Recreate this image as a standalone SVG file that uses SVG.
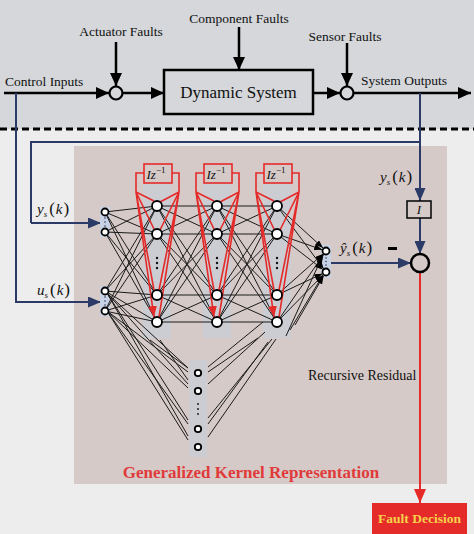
<svg xmlns="http://www.w3.org/2000/svg" width="474" height="534" viewBox="0 0 474 534">
<style>
.t{font-family:"Liberation Serif","Times New Roman",serif;fill:#111}
.nav{stroke:#2b3a67;stroke-width:2;fill:none}
.blk{stroke:#000;stroke-width:2.5;fill:none}
.net{stroke:#1a1a1a;stroke-width:1;fill:none}
.red{stroke:#e52a2a;stroke-width:1.6;fill:none}
.node{fill:#fff;stroke:#000;stroke-width:1.8}
.col{fill:#cccdd2}
.inr{fill:#c7d3e4}
.m{font-style:italic}
.p{font-style:normal;font-size:17px}
</style>
<defs>
<marker id="ab" markerUnits="userSpaceOnUse" markerWidth="14" markerHeight="12" refX="13" refY="6" orient="auto"><path d="M0 0L13 6L0 12Z" fill="#000"/></marker>
<marker id="an" markerUnits="userSpaceOnUse" markerWidth="14" markerHeight="11" refX="13" refY="5.5" orient="auto"><path d="M0 0L13 5.5L0 11Z" fill="#2b3a67"/></marker>
<marker id="ar" markerUnits="userSpaceOnUse" markerWidth="15" markerHeight="12" refX="14" refY="6" orient="auto"><path d="M0 0L14 6L0 12Z" fill="#e52a2a"/></marker>
<marker id="as" markerUnits="userSpaceOnUse" markerWidth="9" markerHeight="6" refX="8" refY="3" orient="auto"><path d="M0 0L8 3L0 6Z" fill="#000"/></marker>
<marker id="asr" markerUnits="userSpaceOnUse" markerWidth="12" markerHeight="9" refX="11" refY="4.5" orient="auto"><path d="M0 0L11 4.5L0 9Z" fill="#e52a2a"/></marker>
</defs>

<!-- backgrounds -->
<rect x="0" y="0" width="474" height="129" fill="#d5d7da"/>
<rect x="0" y="129" width="474" height="405" fill="#ededed"/>
<rect x="74" y="146" width="373" height="338" fill="#d6cac8"/>
<line x1="0" y1="129" x2="474" y2="129" stroke="#000" stroke-width="3" stroke-dasharray="7 4"/>

<!-- top system -->
<g id="dynamic-system">
<rect x="164" y="70" width="149" height="44" fill="none" stroke="#000" stroke-width="2.5"/>
<text class="t" x="238.5" y="98" font-size="17" text-anchor="middle">Dynamic System</text>
</g>
<g id="actuator-sum"><circle cx="116" cy="93" r="6.5" fill="none" stroke="#000" stroke-width="2.2"/></g>
<g id="sensor-sum"><circle cx="347" cy="93" r="6.5" fill="none" stroke="#000" stroke-width="2.2"/></g>
<g id="labels-top">
<text class="t" x="121" y="36" font-size="13.5" text-anchor="middle">Actuator Faults</text>
<text class="t" x="239" y="23" font-size="13.5" text-anchor="middle">Component Faults</text>
<text class="t" x="345" y="41" font-size="13.5" text-anchor="middle">Sensor Faults</text>
<text class="t" x="5" y="86" font-size="13.5">Control Inputs</text>
<text class="t" x="361" y="85" font-size="13.5">System Outputs</text>
</g>

<g id="connectors">
<line class="blk" x1="116" y1="42" x2="116" y2="86" marker-end="url(#ab)"/>
<line class="blk" x1="239" y1="27" x2="239" y2="70" marker-end="url(#ab)"/>
<line class="blk" x1="347" y1="43" x2="347" y2="86" marker-end="url(#ab)"/>
<line class="blk" x1="4" y1="93" x2="109" y2="93" marker-end="url(#ab)"/>
<line class="blk" x1="123" y1="93" x2="164" y2="93" marker-end="url(#ab)"/>
<line class="blk" x1="313" y1="93" x2="340" y2="93" marker-end="url(#ab)"/>
<line class="blk" x1="354" y1="93" x2="471" y2="93" marker-end="url(#ab)"/>

<path class="nav" d="M16 93V302H101" marker-end="url(#an)"/>
<path class="nav" d="M31 223H101" marker-end="url(#an)"/>
<path class="nav" d="M31 223V142H420"/>
<path class="nav" d="M420 93V201" marker-end="url(#an)"/>
<path class="nav" d="M420 218V254" marker-end="url(#an)"/>
<path class="nav" d="M331 263H411" marker-end="url(#an)"/>
<path d="M420 272V503" stroke="#e52a2a" stroke-width="2" fill="none" marker-end="url(#ar)"/>
</g>

<!-- network backgrounds -->
<g id="network-bg">
<rect class="col" x="143" y="183" width="28" height="155"/>
<rect class="col" x="203" y="183" width="28" height="155"/>
<rect class="col" x="263" y="183" width="28" height="155"/>
<rect class="col" x="189" y="360" width="18" height="97"/>
<rect class="inr" x="100" y="207" width="10" height="30"/>
<rect class="inr" x="100" y="286" width="10" height="30"/>
<rect class="inr" x="321" y="245" width="10" height="33"/>
</g>

<!-- network connections -->
<g id="network-links">
<path class="net" d="M105 212L157 206M105 212L157 234M105 212L157 295M105 212L157 322M105 232L157 206M105 232L157 234M105 232L157 295M105 232L157 322M105 291L157 206M105 291L157 234M105 291L157 295M105 291L157 322M105 311L157 206M105 311L157 234M105 311L157 295M105 311L157 322"/>
<path class="net" d="M157 206L217 234M157 206L217 295M157 206L217 322M157 234L217 206M157 234L217 295M157 234L217 322M157 295L217 206M157 295L217 234M157 295L217 322M157 322L217 206M157 322L217 234M157 322L217 295"/>
<path class="net" d="M217 206L277 234M217 206L277 295M217 206L277 322M217 234L277 206M217 234L277 295M217 234L277 322M217 295L277 206M217 295L277 234M217 295L277 322M217 322L277 206M217 322L277 234M217 322L277 295"/>
<path class="net" stroke-width="1.6" d="M157 206H277M157 234H277M157 295H277M157 322H277"/>
<path class="net" d="M107 293L188 368M107 293L188 384M107 293L188 420M107 293L188 436M107 311L188 372M107 311L188 388M107 311L188 424M107 311L188 440M150 340L188 368M160 340L188 380"/>
<path class="net" d="M208 367L263 322M208 384L265 332M208 418L272 339M208 437L276 339M208 372L258 338M208 424L268 342"/>
<path class="net" d="M277 206L323 248" marker-end="url(#as)"/>
<path class="net" d="M277 206L323.6 268.8" marker-end="url(#as)"/>
<path class="net" d="M277 234L322.2 249.7" marker-end="url(#as)"/>
<path class="net" d="M277 234L322.8 269.5" marker-end="url(#as)"/>
<path class="net" d="M277 295L323 254" marker-end="url(#as)"/>
<path class="net" d="M277 295L322.4 273.7" marker-end="url(#as)"/>
<path class="net" d="M277 322L323.7 254.3" marker-end="url(#as)"/>
<path class="net" d="M277 322L323.2 274.9" marker-end="url(#as)"/>
<path class="net" d="M290 330L323 275" marker-end="url(#as)"/>
<path class="net" d="M286 336L322.5 256" marker-end="url(#as)"/>
<path class="net" d="M295 325L323.5 276" marker-end="url(#as)"/>
</g>

<!-- recurrent feedback -->
<g id="feedback-1">
<rect x="144" y="164" width="28" height="19" fill="#d6cac8" stroke="#e52a2a" stroke-width="1.6"/>
<text class="t m" x="156" y="179" font-size="13" text-anchor="middle">Iz<tspan font-style="normal" font-size="9" dy="-6">−1</tspan></text>
<path class="red" d="M144 173H136V192M172 173H179V192"/>
<path class="red" d="M136 192L154 201M136 192L154 229M136 192L154 290M136 192L154 317" marker-end="url(#asr)"/>
<path class="red" d="M179 192L160 202M179 192L160 230M179 192L159 290M179 192L159 317"/>
</g>
<g id="feedback-2">
<rect x="204" y="164" width="28" height="19" fill="#d6cac8" stroke="#e52a2a" stroke-width="1.6"/>
<text class="t m" x="216" y="179" font-size="13" text-anchor="middle">Iz<tspan font-style="normal" font-size="9" dy="-6">−1</tspan></text>
<path class="red" d="M204 173H196V192M232 173H239V192"/>
<path class="red" d="M196 192L214 201M196 192L214 229M196 192L214 290M196 192L214 317" marker-end="url(#asr)"/>
<path class="red" d="M239 192L220 202M239 192L220 230M239 192L219 290M239 192L219 317"/>
</g>
<g id="feedback-3">
<rect x="264" y="164" width="28" height="19" fill="#d6cac8" stroke="#e52a2a" stroke-width="1.6"/>
<text class="t m" x="276" y="179" font-size="13" text-anchor="middle">Iz<tspan font-style="normal" font-size="9" dy="-6">−1</tspan></text>
<path class="red" d="M264 173H256V192M292 173H299V192"/>
<path class="red" d="M256 192L274 201M256 192L274 229M256 192L274 290M256 192L274 317" marker-end="url(#asr)"/>
<path class="red" d="M299 192L280 202M299 192L280 230M299 192L279 290M299 192L279 317"/>
</g>

<!-- nodes -->
<g id="input-layer">
<circle class="node" cx="105" cy="212" r="3.5"/><circle class="node" cx="105" cy="232" r="3.5"/>
<circle class="node" cx="105" cy="291" r="3.5"/><circle class="node" cx="105" cy="311" r="3.5"/>
<g fill="#2b3a67"><circle cx="105" cy="218" r="0.8"/><circle cx="105" cy="222" r="0.8"/><circle cx="105" cy="226" r="0.8"/><circle cx="105" cy="297" r="0.8"/><circle cx="105" cy="301" r="0.8"/><circle cx="105" cy="305" r="0.8"/></g>
</g>
<g id="hidden-1">
<circle class="node" cx="157" cy="206" r="5"/><circle class="node" cx="157" cy="234" r="5"/><circle class="node" cx="157" cy="295" r="5"/><circle class="node" cx="157" cy="322" r="5"/>
<g fill="#111"><circle cx="157" cy="258" r="1.2"/><circle cx="157" cy="263" r="1.2"/><circle cx="157" cy="268" r="1.2"/></g>
</g>
<g id="hidden-2">
<circle class="node" cx="217" cy="206" r="5"/><circle class="node" cx="217" cy="234" r="5"/><circle class="node" cx="217" cy="295" r="5"/><circle class="node" cx="217" cy="322" r="5"/>
<g fill="#111"><circle cx="217" cy="258" r="1.2"/><circle cx="217" cy="263" r="1.2"/><circle cx="217" cy="268" r="1.2"/></g>
</g>
<g id="hidden-3">
<circle class="node" cx="277" cy="206" r="5"/><circle class="node" cx="277" cy="234" r="5"/><circle class="node" cx="277" cy="295" r="5"/><circle class="node" cx="277" cy="322" r="5"/>
<g fill="#111"><circle cx="277" cy="258" r="1.2"/><circle cx="277" cy="263" r="1.2"/><circle cx="277" cy="268" r="1.2"/></g>
</g>
<g id="kernel-column">
<circle class="node" cx="198" cy="373" r="3.2" stroke-width="2"/><circle class="node" cx="198" cy="391" r="3.2" stroke-width="2"/>
<circle class="node" cx="198" cy="429" r="3.2" stroke-width="2"/><circle class="node" cx="198" cy="447" r="3.2" stroke-width="2"/>
<g fill="#111"><circle cx="198" cy="404" r="0.9"/><circle cx="198" cy="409" r="0.9"/><circle cx="198" cy="414" r="0.9"/></g>
</g>
<g id="output-layer">
<circle class="node" cx="326" cy="251" r="3.5"/><circle class="node" cx="326" cy="272" r="3.5"/>
<g fill="#2b3a67"><circle cx="326" cy="258" r="0.8"/><circle cx="326" cy="261.5" r="0.8"/><circle cx="326" cy="265" r="0.8"/></g>
</g>

<!-- residual -->
<g id="residual-sum"><circle cx="420" cy="263" r="9" fill="none" stroke="#000" stroke-width="2.5"/></g>
<g id="identity-block">
<rect x="407" y="201" width="24" height="17" fill="none" stroke="#000" stroke-width="1.5"/>
<text class="t m" x="419" y="214" font-size="13" text-anchor="middle">I</text>
</g>
<g id="fault-decision">
<rect x="372" y="503" width="95" height="31" fill="#e52a2a"/>
<text x="419.5" y="523" font-family="Liberation Serif, serif" font-size="13.5" font-weight="bold" fill="#f5d24a" text-anchor="middle">Fault Decision</text>
</g>

<!-- labels -->
<g id="labels">
<text class="t m" x="37" y="214" font-size="15">y<tspan font-size="9" dy="3">s</tspan><tspan class="p" dy="-3" dx="2">(</tspan><tspan dx="1">k</tspan><tspan class="p" dx="1">)</tspan></text>
<text class="t m" x="37" y="295" font-size="15">u<tspan font-size="9" dy="3">s</tspan><tspan class="p" dy="-3" dx="2">(</tspan><tspan dx="1">k</tspan><tspan class="p" dx="1">)</tspan></text>
<text class="t m" x="380" y="182" font-size="15">y<tspan font-size="9" dy="3">s</tspan><tspan class="p" dy="-3" dx="2">(</tspan><tspan dx="1">k</tspan><tspan class="p" dx="1">)</tspan></text>
<text class="t m" x="340" y="253" font-size="15">ŷ<tspan font-size="9" dy="3">s</tspan><tspan class="p" dy="-3" dx="2">(</tspan><tspan dx="1">k</tspan><tspan class="p" dx="1">)</tspan></text>
<rect x="388" y="247" width="9" height="3" fill="#000"/>
<text class="t" x="308" y="380" font-size="14">Recursive Residual</text>
<text x="251" y="478" font-family="Liberation Serif, serif" font-size="17" font-weight="bold" fill="#e03a3a" text-anchor="middle">Generalized Kernel Representation</text>
</g>
</svg>
